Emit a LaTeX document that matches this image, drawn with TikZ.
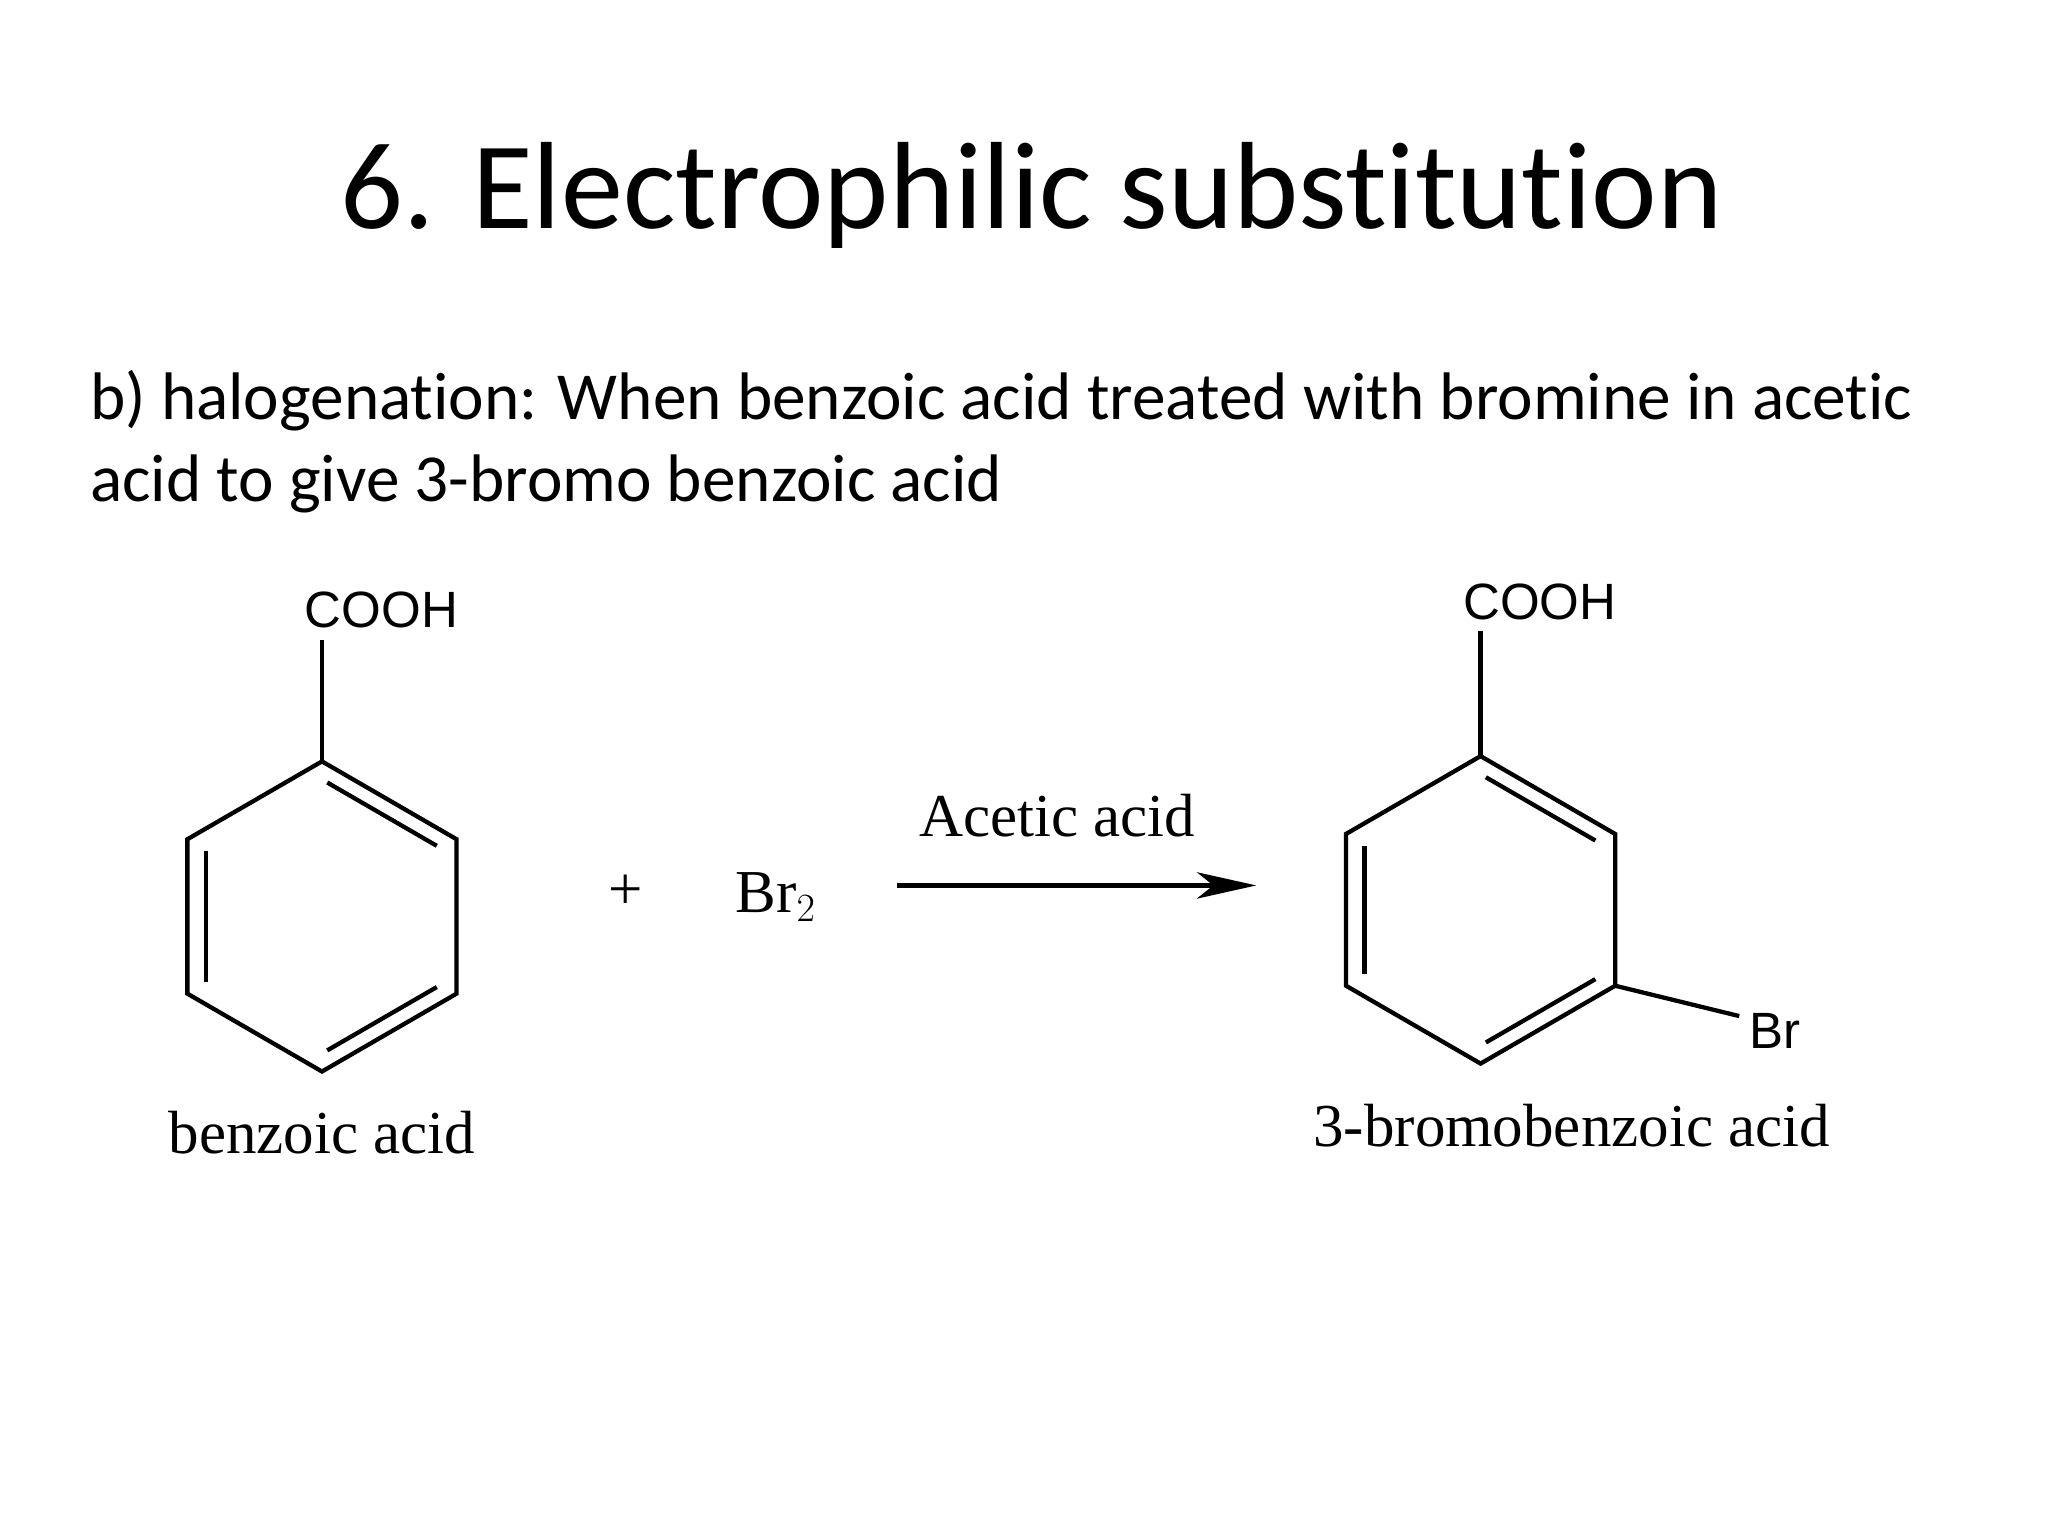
\documentclass[tikz,border=0pt]{standalone}
\usepackage{fontspec}
\setmainfont{Liberation Serif}
\newfontfamily\calib[Ligatures={NoCommon}]{Carlito}
\newfontfamily\arial{Liberation Sans}
\usetikzlibrary{arrows.meta}
\begin{document}
\begin{tikzpicture}[x=0.2mm,y=-0.2mm,
  bond/.style={line width=0.65mm},
  chem/.style={font=\arial\fontsize{22}{26}\selectfont,inner sep=0},
  tms/.style={font=\fontsize{26.3}{30}\selectfont,inner sep=0}]
\useasboundingbox (0,0) rectangle (1552,1164);
\node[font=\calib\fontsize{53.5}{64}\selectfont,inner sep=0] (title) at (782,148) {6. Electrophilic substitution};
\node[font=\calib\fontsize{29}{34}\selectfont,anchor=base west,inner sep=0] (l1) at (68,318) {b) halogenation: When benzoic acid treated with bromine in acetic};
\node[font=\calib\fontsize{29}{34}\selectfont,anchor=base west,inner sep=0] (l2) at (68,380) {acid to give 3-bromo benzoic acid};
% left benzene
\foreach \n/\x/\y in {a1/244/577,a2/346/636,a3/346/753,a4/244/812,a5/142/753,a6/142/636}{\coordinate (\n) at (\x,\y);}
\draw[bond] (a1)--(a2)--(a3)--(a4)--(a5)--(a6)--cycle;
\draw[bond] (248,593)--(331,641);
\draw[bond] (248,796)--(331,748);
\draw[bond] (156,645)--(156,744);
\node[chem] (c1) at (289,462) {COOH};
\draw[bond] (a1) -- (244,485);
% right benzene
\foreach \n/\x/\y in {b1/1122/573,b2/1224/632,b3/1224/747,b4/1122/806,b5/1020/747,b6/1020/632}{\coordinate (\n) at (\x,\y);}
\draw[bond] (b1)--(b2)--(b3)--(b4)--(b5)--(b6)--cycle;
\draw[bond] (1126,589)--(1209,637);
\draw[bond] (1126,790)--(1209,742);
\draw[bond] (1034,641)--(1034,738);
\node[chem] (c2) at (1167,456) {COOH};
\draw[bond] (b1) -- (1122,478);
\node[chem] (br) at (1345,781) {Br};
\draw[bond] (b3) -- (1318,770);
\node[tms] (plus) at (474,676) {+};
\node[tms] (br2) at (588,680) {Br$_2$};
\node[tms] (ac) at (801,618) {Acetic acid};
\coordinate (s) at (680,671); \coordinate (e) at (952,671);
\draw[bond,-{Stealth[length=9mm,width=4mm,inset=2.5mm]}] (s) -- (e);
\node[tms] (n1) at (244,858) {benzoic acid};
\node[tms] (n2) at (1191,853) {3-bromobenzoic acid};
\end{tikzpicture}
\end{document}
